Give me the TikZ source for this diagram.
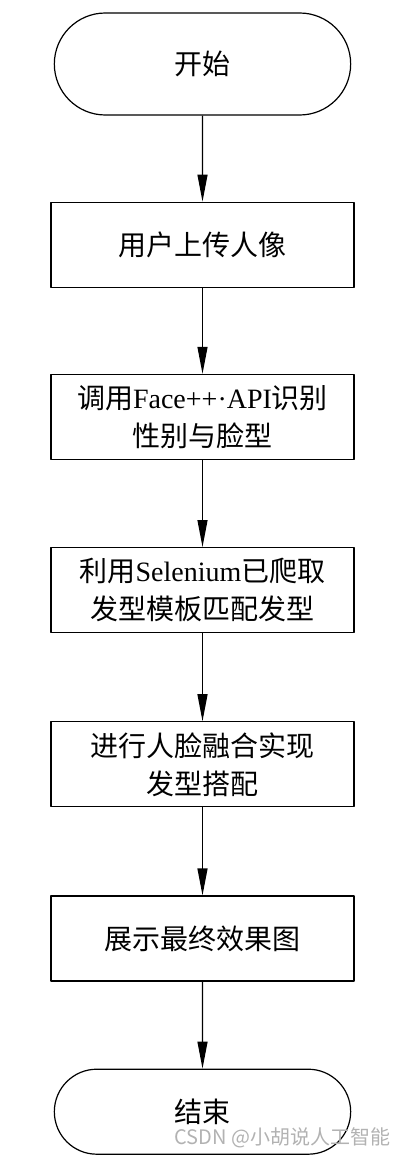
\documentclass[tikz,border=0pt]{standalone}
\usepackage{fontspec}
\setmainfont{Liberation Serif}
\newfontfamily\cjk{Noto Sans CJK SC}
\usetikzlibrary{positioning,shapes.misc,arrows.meta}
\newcommand\lat[1]{{\rmfamily #1}}

\tikzset{
  flowterm/.style={rounded rectangle,draw,line width=1.2pt,minimum width=303pt,
    font=\cjk\fontsize{28}{38}\selectfont},
  flowbox/.style={rectangle,draw,line width=1.2pt,minimum width=303pt,minimum height=85pt,
    align=center,font=\cjk\fontsize{28}{38}\selectfont},
  flowarrow/.style={line width=1.2pt,-{Triangle[length=27pt,width=10pt]}}
}

\begin{document}
\begin{tikzpicture}[x=1pt,y=1pt,line join=round]
  \useasboundingbox (0,0) rectangle (408,-1158);
  \node[flowterm,minimum height=102pt] (start) at (202.5,-64) {开始};
  \node[flowbox,below=86pt of start] (upload) {用户上传人像};
  \node[flowbox,below=86pt of upload] (detect) {调用\lat{Face++·API}识别\\性别与脸型};
  \node[flowbox,below=87pt of detect] (match) {利用\lat{Selenium}已爬取\\发型模板匹配发型};
  \node[flowbox,below=88pt of match] (fuse) {进行人脸融合实现\\发型搭配};
  \node[flowbox,below=88pt of fuse] (show) {展示最终效果图};
  \node[flowterm,minimum height=85pt,below=87pt of show] (stop) {结束};
  \foreach \a/\b in {start/upload,upload/detect,detect/match,match/fuse,fuse/show,show/stop}
    \draw[flowarrow] (\a) -- (\b);
  % watermark
  \node[anchor=east,text=black!30,font=\cjk\fontsize{20}{22}\selectfont] (mark) at (394,-1138) {CSDN @小胡说人工智能};
\end{tikzpicture}
\end{document}
